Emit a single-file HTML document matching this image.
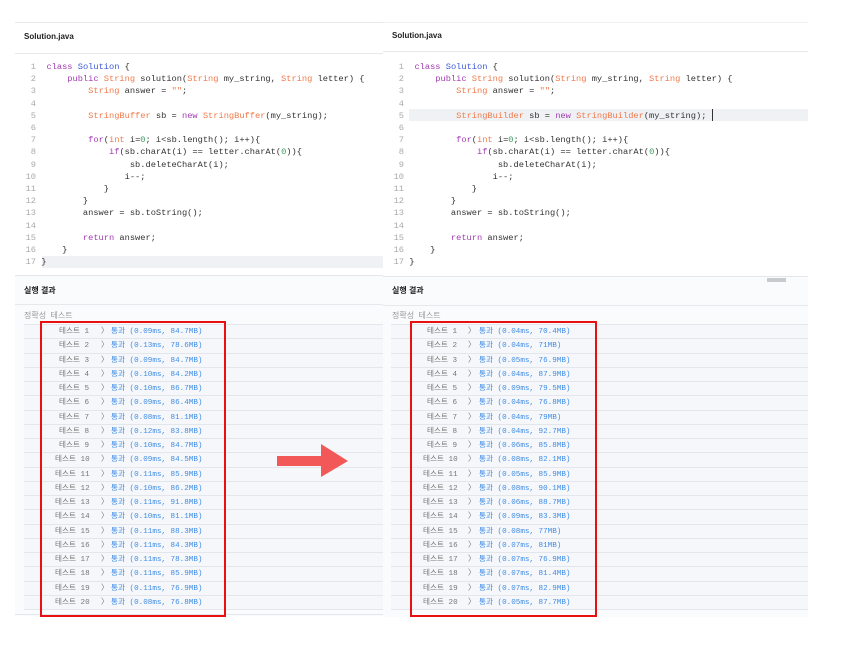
<!DOCTYPE html>
<html><head><meta charset="utf-8"><style>
*{margin:0;padding:0;box-sizing:border-box}
body{width:844px;height:648px;background:#fff;position:relative;overflow:hidden;font-family:"Liberation Sans","Noto Sans CJK KR",sans-serif}
.a{position:absolute}
.code{font-family:"Liberation Mono",monospace;font-size:8.7px;color:#333;white-space:pre;line-height:12.2px}
.ln{color:#aaa;text-align:right;width:14px;display:inline-block}
.k{color:#a23cb4}.t{color:#f07a4a}.c{color:#3c5ad8}.n{color:#3a9a5a}
.hdr{font-size:8px;font-weight:bold;color:#222}
.row{position:absolute;height:14.25px;border-bottom:1px solid #e3e6ea;background:#f6f7fa;font-family:"Liberation Mono","Noto Sans CJK KR",monospace;font-size:7.6px;line-height:14px;white-space:pre}
.row span{position:absolute}
.g{color:#777}.b{color:#3d8ce6}
.red{position:absolute;border:2.5px solid #e81010}
</style></head><body>
<!-- left panel -->
<div class="a" style="left:15px;top:22px;width:368px;height:1px;background:#e8eaee"></div>
<div class="a hdr" style="left:24px;top:32px">Solution.java</div>
<div class="a" style="left:15px;top:53px;width:368px;height:1px;background:#e6e8ec"></div>
<div class="a" style="left:42px;top:256px;width:341px;height:12px;background:#f0f1f4"></div>
<div class="a" style="left:15px;top:275px;width:368px;height:1px;background:#e3e6ea"></div>
<div class="a" style="left:15px;top:276px;width:368px;height:340px;background:#fafbfc"></div>
<div class="a hdr" style="left:24px;top:285px">실행 결과</div>
<div class="a" style="left:15px;top:304px;width:368px;height:1px;background:#e6e8ec"></div>
<div class="a" style="left:24px;top:310px;font-size:8px;color:#999">정확성&nbsp; 테스트</div>
<div class="a" style="left:15px;top:614px;width:368px;height:1px;background:#e3e6ea"></div>

<!-- right panel -->
<div class="a" style="left:383px;top:22px;width:425px;height:1px;background:#eef0f2"></div>
<div class="a hdr" style="left:392px;top:31px">Solution.java</div>
<div class="a" style="left:383px;top:51px;width:425px;height:1px;background:#e6e8ec"></div>
<div class="a" style="left:409px;top:109px;width:399px;height:12px;background:#f0f1f4"></div>
<div class="a" style="left:712px;top:109px;width:1px;height:12px;background:#333"></div>
<div class="a" style="left:383px;top:276px;width:425px;height:1px;background:#e3e6ea"></div>
<div class="a" style="left:383px;top:277px;width:425px;height:340px;background:#fafbfc"></div>
<div class="a" style="left:767px;top:278px;width:19px;height:4px;background:#c8cacd"></div>
<div class="a hdr" style="left:392px;top:285px">실행 결과</div>
<div class="a" style="left:383px;top:305px;width:425px;height:1px;background:#e6e8ec"></div>
<div class="a" style="left:392px;top:310px;font-size:8px;color:#999">정확성&nbsp; 테스트</div>

<!-- left code -->
<div class="a code" style="left:22px;top:61px"><span class="ln">1</span>  <span class="k">class</span> <span class="c">Solution</span> {
<span class="ln">2</span>      <span class="k">public</span> <span class="t">String</span> solution(<span class="t">String</span> my_string, <span class="t">String</span> letter) {
<span class="ln">3</span>          <span class="t">String</span> answer = <span class="t">""</span>;
<span class="ln">4</span>
<span class="ln">5</span>          <span class="t">StringBuffer</span> sb = <span class="k">new</span> <span class="t">StringBuffer</span>(my_string);
<span class="ln">6</span>
<span class="ln">7</span>          <span class="k">for</span>(<span class="t">int</span> i=<span class="n">0</span>; i&lt;sb.length(); i++){
<span class="ln">8</span>              <span class="k">if</span>(sb.charAt(i) == letter.charAt(<span class="n">0</span>)){
<span class="ln">9</span>                  sb.deleteCharAt(i);
<span class="ln">10</span>                 i--;
<span class="ln">11</span>             }
<span class="ln">12</span>         }
<span class="ln">13</span>         answer = sb.toString();
<span class="ln">14</span>
<span class="ln">15</span>         <span class="k">return</span> answer;
<span class="ln">16</span>     }
<span class="ln">17</span> }</div>
<!-- right code -->
<div class="a code" style="left:390px;top:61px"><span class="ln">1</span>  <span class="k">class</span> <span class="c">Solution</span> {
<span class="ln">2</span>      <span class="k">public</span> <span class="t">String</span> solution(<span class="t">String</span> my_string, <span class="t">String</span> letter) {
<span class="ln">3</span>          <span class="t">String</span> answer = <span class="t">""</span>;
<span class="ln">4</span>
<span class="ln">5</span>          <span class="t">StringBuilder</span> sb = <span class="k">new</span> <span class="t">StringBuilder</span>(my_string);
<span class="ln">6</span>
<span class="ln">7</span>          <span class="k">for</span>(<span class="t">int</span> i=<span class="n">0</span>; i&lt;sb.length(); i++){
<span class="ln">8</span>              <span class="k">if</span>(sb.charAt(i) == letter.charAt(<span class="n">0</span>)){
<span class="ln">9</span>                  sb.deleteCharAt(i);
<span class="ln">10</span>                 i--;
<span class="ln">11</span>             }
<span class="ln">12</span>         }
<span class="ln">13</span>         answer = sb.toString();
<span class="ln">14</span>
<span class="ln">15</span>         <span class="k">return</span> answer;
<span class="ln">16</span>     }
<span class="ln">17</span> }</div>

<!-- left rows -->
<div class="a" style="left:24px;top:324px;width:359px;height:286px;border-top:1px solid #e3e6ea">
<div class="row" style="top:0;left:0;right:0"><span class="g" style="left:35px">테스트 1</span><span class="g" style="left:77px">〉</span><span class="b" style="left:87px">통과 (0.09ms, 84.7MB)</span></div>
<div class="row" style="top:14.25px;left:0;right:0"><span class="g" style="left:35px">테스트 2</span><span class="g" style="left:77px">〉</span><span class="b" style="left:87px">통과 (0.13ms, 78.6MB)</span></div>
<div class="row" style="top:28.5px;left:0;right:0"><span class="g" style="left:35px">테스트 3</span><span class="g" style="left:77px">〉</span><span class="b" style="left:87px">통과 (0.09ms, 84.7MB)</span></div>
<div class="row" style="top:42.75px;left:0;right:0"><span class="g" style="left:35px">테스트 4</span><span class="g" style="left:77px">〉</span><span class="b" style="left:87px">통과 (0.10ms, 84.2MB)</span></div>
<div class="row" style="top:57px;left:0;right:0"><span class="g" style="left:35px">테스트 5</span><span class="g" style="left:77px">〉</span><span class="b" style="left:87px">통과 (0.10ms, 86.7MB)</span></div>
<div class="row" style="top:71.25px;left:0;right:0"><span class="g" style="left:35px">테스트 6</span><span class="g" style="left:77px">〉</span><span class="b" style="left:87px">통과 (0.09ms, 86.4MB)</span></div>
<div class="row" style="top:85.5px;left:0;right:0"><span class="g" style="left:35px">테스트 7</span><span class="g" style="left:77px">〉</span><span class="b" style="left:87px">통과 (0.08ms, 81.1MB)</span></div>
<div class="row" style="top:99.75px;left:0;right:0"><span class="g" style="left:35px">테스트 8</span><span class="g" style="left:77px">〉</span><span class="b" style="left:87px">통과 (0.12ms, 83.8MB)</span></div>
<div class="row" style="top:114px;left:0;right:0"><span class="g" style="left:35px">테스트 9</span><span class="g" style="left:77px">〉</span><span class="b" style="left:87px">통과 (0.10ms, 84.7MB)</span></div>
<div class="row" style="top:128.25px;left:0;right:0"><span class="g" style="left:31px">테스트 10</span><span class="g" style="left:77px">〉</span><span class="b" style="left:87px">통과 (0.09ms, 84.5MB)</span></div>
<div class="row" style="top:142.5px;left:0;right:0"><span class="g" style="left:31px">테스트 11</span><span class="g" style="left:77px">〉</span><span class="b" style="left:87px">통과 (0.11ms, 85.9MB)</span></div>
<div class="row" style="top:156.75px;left:0;right:0"><span class="g" style="left:31px">테스트 12</span><span class="g" style="left:77px">〉</span><span class="b" style="left:87px">통과 (0.10ms, 86.2MB)</span></div>
<div class="row" style="top:171px;left:0;right:0"><span class="g" style="left:31px">테스트 13</span><span class="g" style="left:77px">〉</span><span class="b" style="left:87px">통과 (0.11ms, 91.8MB)</span></div>
<div class="row" style="top:185.25px;left:0;right:0"><span class="g" style="left:31px">테스트 14</span><span class="g" style="left:77px">〉</span><span class="b" style="left:87px">통과 (0.10ms, 81.1MB)</span></div>
<div class="row" style="top:199.5px;left:0;right:0"><span class="g" style="left:31px">테스트 15</span><span class="g" style="left:77px">〉</span><span class="b" style="left:87px">통과 (0.11ms, 88.3MB)</span></div>
<div class="row" style="top:213.75px;left:0;right:0"><span class="g" style="left:31px">테스트 16</span><span class="g" style="left:77px">〉</span><span class="b" style="left:87px">통과 (0.11ms, 84.3MB)</span></div>
<div class="row" style="top:228px;left:0;right:0"><span class="g" style="left:31px">테스트 17</span><span class="g" style="left:77px">〉</span><span class="b" style="left:87px">통과 (0.11ms, 78.3MB)</span></div>
<div class="row" style="top:242.25px;left:0;right:0"><span class="g" style="left:31px">테스트 18</span><span class="g" style="left:77px">〉</span><span class="b" style="left:87px">통과 (0.11ms, 85.9MB)</span></div>
<div class="row" style="top:256.5px;left:0;right:0"><span class="g" style="left:31px">테스트 19</span><span class="g" style="left:77px">〉</span><span class="b" style="left:87px">통과 (0.11ms, 76.9MB)</span></div>
<div class="row" style="top:270.75px;left:0;right:0"><span class="g" style="left:31px">테스트 20</span><span class="g" style="left:77px">〉</span><span class="b" style="left:87px">통과 (0.08ms, 76.8MB)</span></div>
</div>

<!-- right rows -->
<div class="a" style="left:391px;top:324px;width:417px;height:286px;border-top:1px solid #e3e6ea">
<div class="row" style="top:0;left:0;right:0"><span class="g" style="left:36px">테스트 1</span><span class="g" style="left:77px">〉</span><span class="b" style="left:88px">통과 (0.04ms, 70.4MB)</span></div>
<div class="row" style="top:14.25px;left:0;right:0"><span class="g" style="left:36px">테스트 2</span><span class="g" style="left:77px">〉</span><span class="b" style="left:88px">통과 (0.04ms, 71MB)</span></div>
<div class="row" style="top:28.5px;left:0;right:0"><span class="g" style="left:36px">테스트 3</span><span class="g" style="left:77px">〉</span><span class="b" style="left:88px">통과 (0.05ms, 76.9MB)</span></div>
<div class="row" style="top:42.75px;left:0;right:0"><span class="g" style="left:36px">테스트 4</span><span class="g" style="left:77px">〉</span><span class="b" style="left:88px">통과 (0.04ms, 87.9MB)</span></div>
<div class="row" style="top:57px;left:0;right:0"><span class="g" style="left:36px">테스트 5</span><span class="g" style="left:77px">〉</span><span class="b" style="left:88px">통과 (0.09ms, 79.5MB)</span></div>
<div class="row" style="top:71.25px;left:0;right:0"><span class="g" style="left:36px">테스트 6</span><span class="g" style="left:77px">〉</span><span class="b" style="left:88px">통과 (0.04ms, 76.8MB)</span></div>
<div class="row" style="top:85.5px;left:0;right:0"><span class="g" style="left:36px">테스트 7</span><span class="g" style="left:77px">〉</span><span class="b" style="left:88px">통과 (0.04ms, 79MB)</span></div>
<div class="row" style="top:99.75px;left:0;right:0"><span class="g" style="left:36px">테스트 8</span><span class="g" style="left:77px">〉</span><span class="b" style="left:88px">통과 (0.04ms, 92.7MB)</span></div>
<div class="row" style="top:114px;left:0;right:0"><span class="g" style="left:36px">테스트 9</span><span class="g" style="left:77px">〉</span><span class="b" style="left:88px">통과 (0.06ms, 85.8MB)</span></div>
<div class="row" style="top:128.25px;left:0;right:0"><span class="g" style="left:32px">테스트 10</span><span class="g" style="left:77px">〉</span><span class="b" style="left:88px">통과 (0.08ms, 82.1MB)</span></div>
<div class="row" style="top:142.5px;left:0;right:0"><span class="g" style="left:32px">테스트 11</span><span class="g" style="left:77px">〉</span><span class="b" style="left:88px">통과 (0.05ms, 85.9MB)</span></div>
<div class="row" style="top:156.75px;left:0;right:0"><span class="g" style="left:32px">테스트 12</span><span class="g" style="left:77px">〉</span><span class="b" style="left:88px">통과 (0.08ms, 90.1MB)</span></div>
<div class="row" style="top:171px;left:0;right:0"><span class="g" style="left:32px">테스트 13</span><span class="g" style="left:77px">〉</span><span class="b" style="left:88px">통과 (0.06ms, 88.7MB)</span></div>
<div class="row" style="top:185.25px;left:0;right:0"><span class="g" style="left:32px">테스트 14</span><span class="g" style="left:77px">〉</span><span class="b" style="left:88px">통과 (0.09ms, 83.3MB)</span></div>
<div class="row" style="top:199.5px;left:0;right:0"><span class="g" style="left:32px">테스트 15</span><span class="g" style="left:77px">〉</span><span class="b" style="left:88px">통과 (0.08ms, 77MB)</span></div>
<div class="row" style="top:213.75px;left:0;right:0"><span class="g" style="left:32px">테스트 16</span><span class="g" style="left:77px">〉</span><span class="b" style="left:88px">통과 (0.07ms, 81MB)</span></div>
<div class="row" style="top:228px;left:0;right:0"><span class="g" style="left:32px">테스트 17</span><span class="g" style="left:77px">〉</span><span class="b" style="left:88px">통과 (0.07ms, 76.9MB)</span></div>
<div class="row" style="top:242.25px;left:0;right:0"><span class="g" style="left:32px">테스트 18</span><span class="g" style="left:77px">〉</span><span class="b" style="left:88px">통과 (0.07ms, 81.4MB)</span></div>
<div class="row" style="top:256.5px;left:0;right:0"><span class="g" style="left:32px">테스트 19</span><span class="g" style="left:77px">〉</span><span class="b" style="left:88px">통과 (0.07ms, 82.9MB)</span></div>
<div class="row" style="top:270.75px;left:0;right:0"><span class="g" style="left:32px">테스트 20</span><span class="g" style="left:77px">〉</span><span class="b" style="left:88px">통과 (0.05ms, 87.7MB)</span></div>
</div>

<div class="red" style="left:40px;top:321px;width:186px;height:296px"></div>
<div class="red" style="left:410px;top:321px;width:187px;height:296px"></div>

<svg class="a" style="left:270px;top:440px" width="85" height="42">
<polygon points="7,16 51,16 51,4 78,21 51,37 51,26 7,26" fill="#f25858"/>
</svg>
</body></html>
